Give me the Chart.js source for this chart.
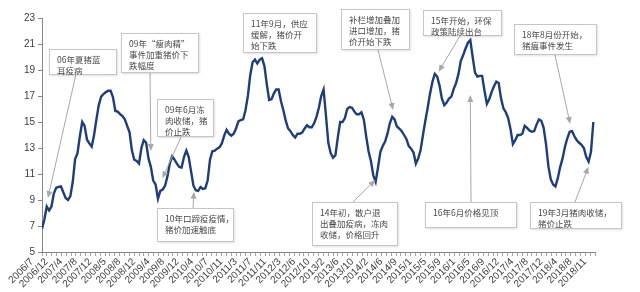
<!DOCTYPE html>
<html>
<head>
<meta charset="utf-8">
<script src="https://cdn.jsdelivr.net/npm/chart.js@4.4.1/dist/chart.umd.min.js"></script>
<style>
html,body{margin:0;padding:0;background:#fff;}
#wrap{position:relative;width:640px;height:292px;}
.note{position:absolute;box-sizing:border-box;background:#fff;border:1px solid #c6c6c6;
  box-shadow:1px 1px 2px rgba(0,0,0,.12);font:8.5px/11px "Noto Sans CJK SC",sans-serif;
  color:#4a4a4a;padding:4px 0 0 7px;white-space:pre;}
</style>
</head>
<body>
<div id="wrap"><canvas id="c"></canvas></div>
<script>
// ─── Data ───
const xLabels=['2006/7','2006/12','2007/4','2007/8','2007/12','2008/5','2008/8','2008/12','2009/4','2009/8',
  '2009/12','2010/4','2010/7','2010/11','2011/3','2011/7','2011/11','2012/3','2012/6','2012/10',
  '2013/2','2013/6','2013/10','2014/2','2014/6','2014/9','2015/1','2015/5','2015/9','2016/1',
  '2016/5','2016/9','2016/12','2017/4','2017/8','2017/12','2018/4','2018/8','2018/11'];

// pig price, sampled along the x axis (point index = position)
const prices=[
  6.8,7.5,8.5,8.2,8.5,9.5,9.95,10.0,10.05,9.6,
  9.15,9.0,9.3,10.4,12.15,12.6,13.9,15.0,14.7,13.65,
  13.35,13.1,14.0,15.2,16.3,16.95,17.15,17.3,17.4,17.4,
  16.9,15.85,15.8,15.6,15.45,15.2,14.7,14.2,12.8,12.1,
  12.0,11.8,13.0,13.6,13.4,12.2,11.55,10.5,10.2,9.1,
  9.7,9.8,10.1,10.8,11.8,12.35,12.1,11.8,11.55,11.5,
  12.3,12.8,12.3,11.2,10.1,9.75,9.7,10.0,9.85,9.9,
  10.5,12.1,12.75,12.8,12.95,13.05,13.35,13.95,14.4,14.1,
  13.95,14.1,14.5,15.05,15.15,15.2,15.9,17.0,18.6,19.6,
  19.8,19.5,19.8,19.9,19.3,17.9,16.7,16.75,17.2,17.5,
  17.5,16.6,15.9,15.1,14.5,14.3,14.0,13.8,14.1,14.1,
  14.2,14.5,14.75,14.6,14.6,14.9,15.4,16.1,17.0,17.5,
  15.5,13.4,12.6,12.25,12.45,13.8,15.0,15.0,15.3,16.0,
  16.15,16.1,15.8,15.6,15.6,15.75,15.2,13.9,12.75,12.0,
  10.9,10.4,11.5,12.7,13.15,13.5,14.1,14.9,15.4,15.2,
  14.65,14.5,14.3,14.0,13.7,13.15,12.95,12.65,11.8,12.2,
  12.85,14.0,15.1,16.1,17.2,18.1,18.7,18.5,17.8,16.8,
  16.3,16.5,16.8,16.95,17.55,18.0,18.7,19.7,20.15,20.65,
  21.1,21.3,20.0,18.8,18.5,18.55,18.55,17.4,16.4,16.75,
  17.3,17.75,18.1,18.0,16.8,16.05,15.75,15.3,14.45,13.3,
  13.6,14.0,14.0,14.1,14.7,14.55,14.35,14.25,14.3,14.8,
  15.2,15.1,14.55,13.3,11.6,10.6,10.2,10.05,10.7,11.55,
  12.2,13.1,13.75,14.25,14.3,13.9,13.6,13.4,13.25,13.0,
  12.3,11.95,12.7,15.0
];

// ─── Annotations (tip = [point index, price]) ───
const notes=[
  {text:'06年夏猪蓝\n耳疫病',                      box:[49,49,68,26],   tail:[76,74],   tip:[2.5,9.15]},
  {text:'09年“瘦肉精”\n事件加重猪价下\n跌幅度',     box:[121,33,78,40],  tail:[150,72],  tip:[46.0,12.77]},
  {text:'09年6月冻\n肉收储，猪\n价止跌',            box:[157,99,57,38],  tail:[181,137], tip:[50.9,10.67]},
  {text:'10年口蹄疫疫情，\n猪价加速触底',           box:[157,208,77,34], tail:[193,208], tip:[64.2,9.64]},
  {text:'11年9月，供应\n缓解，猪价开\n始下跌',       box:[243,13,74,40]},
  {text:'补栏增加叠加\n进口增加，猪\n价开始下跌',     box:[341,9,69,41],   tail:[378,50],  tip:[148.4,15.92]},
  {text:'15年开始，环保\n政策陆续出台',             box:[423,10,79,26],  tail:[460,36],  tip:[167.6,18.87]},
  {text:'18年8月份开始，\n猪瘟事件发生',            box:[514,24,83,31],  tail:[555,55],  tip:[223.2,14.85]},
  {text:'16年6月价格见顶',                        box:[425,202,92,26], tail:[471,202], tip:[181.0,17.08]},
  {text:'19年3月猪肉收储，\n猪价止跌',              box:[530,202,92,27], tail:[575,202], tip:[230.9,11.56]},
  {text:'14年初，散户退\n出叠加疫病，冻肉\n收储，价格回升', box:[312,202,86,44], tail:[353,202], tip:[140.9,10.54]}
];

const X_MAX=233.7, TICK_COUNT=114;

const wrap=document.getElementById('wrap');
notes.forEach(n=>{
  const d=document.createElement('div');
  d.className='note';
  d.textContent=n.text;
  d.style.left=n.box[0]+'px';d.style.top=n.box[1]+'px';
  d.style.width=n.box[2]+'px';d.style.height=n.box[3]+'px';
  wrap.appendChild(d);
});

const arrowPlugin={id:'arrows',afterDatasetsDraw(chart){
  const {ctx,scales:{x,y}}=chart;
  ctx.save();
  ctx.strokeStyle='#a8a8a8';ctx.fillStyle='#a8a8a8';ctx.lineWidth=1;
  notes.forEach(n=>{
    if(!n.tip) return;
    const tx=x.getPixelForValue(n.tip[0]), ty=y.getPixelForValue(n.tip[1]);
    const [sx,sy]=n.tail;
    const a=Math.atan2(ty-sy,tx-sx), c=Math.cos(a), s=Math.sin(a);
    ctx.beginPath();ctx.moveTo(sx,sy);ctx.lineTo(tx-5*c,ty-5*s);ctx.stroke();
    ctx.beginPath();ctx.moveTo(tx,ty);
    ctx.lineTo(tx-7*c+3*s,ty-7*s-3*c);
    ctx.lineTo(tx-7*c-3*s,ty-7*s+3*c);
    ctx.closePath();ctx.fill();
  });
  ctx.restore();
}};

const tickFont={family:"'Liberation Sans', Arial, sans-serif",size:10};

new Chart(document.getElementById('c'),{
  type:'line',
  data:{datasets:[{
    data:prices.map((v,i)=>({x:i,y:v})),
    borderColor:'#1d3d7c',borderWidth:2.4,pointRadius:0,tension:0,fill:false
  }]},
  options:{
    responsive:true,maintainAspectRatio:false,animation:false,
    layout:{padding:{top:18,right:45,left:0,bottom:0}},
    plugins:{legend:{display:false},tooltip:{enabled:false}},
    scales:{
      x:{
        type:'linear',min:0,max:X_MAX,
        afterBuildTicks(s){s.ticks=Array.from({length:TICK_COUNT+1},(_,m)=>({value:m*X_MAX/TICK_COUNT}));},
        afterFit(s){s.height=40;},
        grid:{drawOnChartArea:false,drawTicks:true,tickLength:4,color:'#a6a6a6'},
        border:{color:'#868686'},
        ticks:{autoSkip:false,minRotation:45,maxRotation:45,labelOffset:-10,padding:0,
          color:'#404040',font:tickFont,
          callback:(v,i)=>i%3===0?xLabels[i/3]:''}
      },
      y:{
        min:5,max:23,
        afterFit(s){s.width=42;},
        grid:{drawOnChartArea:false,drawTicks:true,tickLength:4,color:'#868686'},
        border:{color:'#868686'},
        ticks:{stepSize:2,color:'#404040',font:tickFont,padding:3}
      }
    }
  },
  plugins:[arrowPlugin]
});
</script>
</body>
</html>
